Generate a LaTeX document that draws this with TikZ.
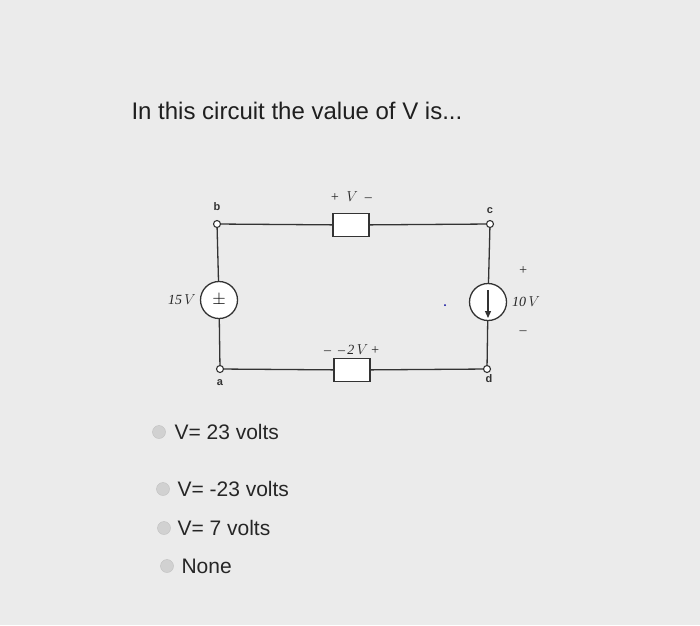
\documentclass[tikz,border=0pt]{standalone}
\usepackage{fontspec}
\setmainfont{Liberation Sans}
\newfontfamily\cirfont{Liberation Serif}
\usetikzlibrary{arrows.meta}
\begin{document}
\begin{tikzpicture}[x=1pt,y=-1pt,
  wire/.style={line width=1.3pt,draw=black!80},
  term/.style={circle,draw=black!80,fill=white,line width=1.1pt,inner sep=0pt,minimum size=7pt},
  res/.style={draw=black!80,fill=white,line width=1.3pt,minimum width=36pt,minimum height=23pt,inner sep=0pt},
  src/.style={circle,draw=black!80,fill=white,line width=1.3pt,minimum size=37pt,inner sep=0pt},
  lbl/.style={font=\cirfont\itshape\fontsize{14}{16}\selectfont,text=black!85},
  tl/.style={font=\bfseries\fontsize{11}{13}\selectfont,text=black!80},
  opt/.style={font=\fontsize{21}{25}\selectfont,text=black!85,anchor=west},
  radio/.style={circle,fill=black!18,draw=black!25,minimum size=13pt,inner sep=0pt}]
\fill[black!8] (0,0) rectangle (700,625);
\useasboundingbox (0,0) rectangle (700,625);
\node[anchor=west,font=\fontsize{24}{28}\selectfont,text=black!88] (title) at (128,111) {In this circuit the value of V is...};
% terminals
\node[term] (b) at (217,224) {};
\node[term] (c) at (490,224) {};
\node[term] (a) at (220,369) {};
\node[term] (d) at (487,369) {};
\node[res] (r1) at (351,225) {};
\node[res] (r2) at (352,370) {};
\node[src,font=\fontsize{16}{18}\selectfont] (s1) at (219,300) {$\pm$};
\node[src] (s2) at (488,302) {};
\draw[wire] (b) -- (r1) -- (c);
\draw[wire] (a) -- (r2) -- (d);
\draw[wire] (b) -- (s1) -- (a);
\draw[wire] (c) -- (s2) -- (d);
\coordinate (s2t) at (488,290);
\coordinate (s2b) at (488,318);
\draw[wire,-{Triangle[length=7pt,width=6pt]}] (s2t) -- (s2b);
% labels
\node[tl] (lb) at (217,207) {b};
\node[tl] (lc) at (490,211) {c};
\node[tl] (la) at (220,383) {a};
\node[tl] (ld) at (489,379) {d};
\node[lbl] (lv) at (351,197) {+\enspace$V$\enspace\textendash};
\node[lbl] (l2v) at (352,350) {\textendash\enspace\textendash\,2\,$V$\,+};
\node[lbl] (l15) at (182,300) {15\,$V$};
\node[lbl] (l10) at (526,302) {10\,$V$};
\node[lbl] (lp) at (523,271) {+};
\node[lbl] (lm) at (523,333) {\textendash};
\fill[blue!60!black] (445,305) circle (1pt);
% options
\node[radio] (o1) at (159,432) {};
\node[opt] (t1) at (171,432) {V= 23 volts};
\node[radio] (o2) at (163,489) {};
\node[opt] (t2) at (174,489) {V= -23 volts};
\node[radio] (o3) at (164,528) {};
\node[opt] (t3) at (174,528) {V= 7 volts};
\node[radio] (o4) at (167,566) {};
\node[opt] (t4) at (178,566) {None};
\end{tikzpicture}
\end{document}
